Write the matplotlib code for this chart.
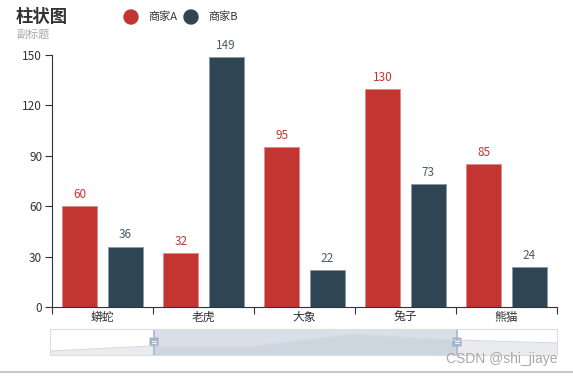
import numpy as np
import matplotlib.pyplot as plt
from matplotlib.patches import Rectangle, FancyBboxPatch, Ellipse

plt.rcParams['font.family'] = ['Noto Sans CJK SC', 'DejaVu Sans']

# data
categories = ['蟒蛇', '老虎', '大象', '兔子', '熊猫']
series_a = [60, 32, 95, 130, 85]
series_b = [36, 149, 22, 73, 24]
names = ['商家A', '商家B']
shadow_vals = [4, 9, 9, 21, 15, 12]

red = '#c23531'
dark = '#2f4554'

W, H = 573, 376
fig = plt.figure(figsize=(W / 100, H / 100), dpi=100)

def fx(px):
  return px / W

def fy(py):
  return 1 - py / H

# main axes
ax = fig.add_axes([fx(52), fy(307), fx(557) - fx(52), fy(55) - fy(307)])
x = np.arange(len(categories))
bw = 0.35
off = 0.225
ax.bar(x - off, series_a, bw, color=red, edgecolor='#e08a88', linewidth=0.6)
ax.bar(x + off, series_b, bw, color=dark, edgecolor='#8a9aa6', linewidth=0.6)
for i in range(len(categories)):
  ax.text(x[i] - off, series_a[i] + 3, str(series_a[i]), ha='center', va='bottom',
          color=red, fontsize=8.5)
  ax.text(x[i] + off, series_b[i] + 3, str(series_b[i]), ha='center', va='bottom',
          color='#4a5a66', fontsize=8.5)

ax.set_xlim(-0.5, len(categories) - 0.5)
ax.set_ylim(0, 150)
ax.set_yticks([0, 30, 60, 90, 120, 150])
ax.set_xticks(x)
ax.set_xticklabels(categories)
ax.set_xticks(np.arange(len(categories) + 1) - 0.5, minor=True)
ax.tick_params(axis='x', which='major', length=0, pad=3, labelsize=8.5, colors='#333333')
ax.tick_params(axis='x', which='minor', length=5, color='#333333', width=0.8)
ax.tick_params(axis='y', length=5, color='#333333', width=0.8, labelsize=8.5,
               labelcolor='#333333', pad=2)
for s in ['top', 'right']:
  ax.spines[s].set_visible(False)
for s in ['left', 'bottom']:
  ax.spines[s].set_color('#333333')
  ax.spines[s].set_linewidth(0.8)

# title and legend
fig.text(fx(16), fy(17), '柱状图', fontsize=12.5, fontweight='bold', color='#333333', va='center')
fig.text(fx(16), fy(35), '副标题', fontsize=8, color='#aaaaaa', va='center')
for px, col, name in [(131, red, names[0]), (191, dark, names[1])]:
  fig.add_artist(Ellipse((fx(px), fy(17)), 14 / W, 14 / H, color=col,
                         transform=fig.transFigure))
  fig.text(fx(px + 17), fy(17), name, fontsize=8, color='#333333', va='center')

# data zoom slider
sz = fig.add_axes([fx(50), fy(355), fx(557) - fx(50), fy(329) - fy(355)])
sz.set_xlim(0, 1)
sz.set_ylim(0, 26)
sx = np.linspace(0, 1, len(shadow_vals))
sz.fill_between(sx, 0, shadow_vals, color='#e9ebee', lw=0)
sz.plot(sx, shadow_vals, color='#d6dae0', lw=0.8)
lo = (154 - 50) / (557 - 50)
hi = (457 - 50) / (557 - 50)
sz.add_patch(Rectangle((lo, 0), hi - lo, 26, color='#a7b7cc', alpha=0.42, lw=0))
for h in [lo, hi]:
  sz.axvline(h, color='#a7b7cc', lw=1.2)
  sz.add_patch(FancyBboxPatch((h - 0.006, 9), 0.012, 8,
                              boxstyle='round,pad=0.002', fc='#a7b7cc', ec='#8fa0b8', lw=0.5))
  sz.plot([h - 0.004, h + 0.004], [12, 12], color='white', lw=0.6)
  sz.plot([h - 0.004, h + 0.004], [14, 14], color='white', lw=0.6)
sz.set_xticks([])
sz.set_yticks([])
for s in sz.spines.values():
  s.set_color('#dddddd')
  s.set_linewidth(0.8)

# watermark and frame line
fig.text(fx(557), fy(359), 'CSDN @shi_jiaye', fontsize=10, color='#a8a8a8', ha='right', va='center',
         family=['Liberation Sans', 'DejaVu Sans'])
fig.add_artist(plt.Line2D([0, 1], [fy(372), fy(372)], transform=fig.transFigure,
                          color='#c8c8c8', lw=1.5))

fig.savefig('out.png', dpi=100)
